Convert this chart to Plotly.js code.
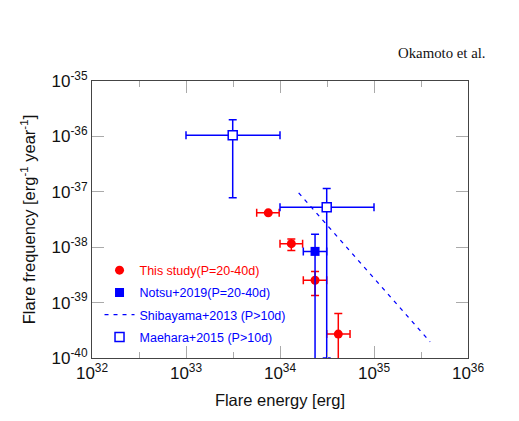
<!DOCTYPE html>
<html>
<head>
<meta charset="utf-8">
<script src="https://cdn.plot.ly/plotly-3.0.1.min.js"></script>
<style>html,body{margin:0;padding:0;background:#fff;}#chart{width:519px;height:421px;}</style>
</head>
<body>
<div id="chart"></div>
<script>
// This study (P=20-40d)
const studyE = [7.5e33, 1.32e34, 2.36e34, 4.17e34];
const studyF = [4.17e-38, 1.16e-38, 2.53e-39, 2.7e-40];
const studyElo = [5.65e33, 1.0e34, 1.77e34, 3.14e34];
const studyEhi = [9.8e33, 1.74e34, 3.14e34, 5.56e34];
const studyFlo = [4.17e-38, 8.75e-39, 1.34e-39, 1e-41];
const studyFhi = [4.17e-38, 1.41e-38, 3.63e-39, 6.37e-40];

// Notsu+2019 (P=20-40d)
const notsuE = [2.36e34];
const notsuF = [8.4e-39];
const notsuElo = [1.77e34];
const notsuEhi = [3.14e34];
const notsuFlo = [1e-41];
const notsuFhi = [1.72e-38];

// Shibayama+2013 (P>10d)
const shibE = [1.58e34, 3.95e35];
const shibF = [9.55e-38, 1.96e-40];

// Maehara+2015 (P>10d)
const maeE = [3.14e33, 3.14e34];
const maeF = [1.05e-36, 5.25e-38];
const maeElo = [1e33, 1e34];
const maeEhi = [1e34, 1e35];
const maeFlo = [7.8e-38, 1.0e-40];
const maeFhi = [2.0e-36, 1.15e-37];

const xTickVals = [1e32, 1e33, 1e34, 1e35, 1e36];
const xTickText = ['10<sup>32</sup>', '10<sup>33</sup>', '10<sup>34</sup>', '10<sup>35</sup>', '10<sup>36</sup>'];
const xMinorVals = [3.162e32, 3.162e33, 3.162e34, 3.162e35];
const yTickVals = [1e-40, 1e-39, 1e-38, 1e-37, 1e-36, 1e-35];
const yTickText = ['10<sup>-40</sup>', '10<sup>-39</sup>', '10<sup>-38</sup>', '10<sup>-37</sup>', '10<sup>-36</sup>', '10<sup>-35</sup>'];

const plus = (hi, v) => hi.map((h, i) => h - v[i]);
const minus = (lo, v) => lo.map((l, i) => v[i] - l);

const RED = '#ff0000', BLUE = '#0000ff';

function errs(v, lo, hi, color) {
  return {type: 'data', symmetric: false, array: plus(hi, v), arrayminus: minus(lo, v),
          color: color, thickness: 1.5, width: 4};
}

const traces = [
  {x: studyE, y: studyF, mode: 'markers', type: 'scatter', legendgroup: 'a',
   name: '<span style="color:#ff0000">This study(P=20-40d)</span>',
   marker: {symbol: 'circle', size: 9, color: RED},
   error_x: errs(studyE, studyElo, studyEhi, RED),
   error_y: errs(studyF, studyFlo, studyFhi, RED)},
  {x: notsuE, y: notsuF, mode: 'markers', type: 'scatter', legendgroup: 'b',
   name: 'Notsu+2019(P=20-40d)',
   marker: {symbol: 'square', size: 9, color: BLUE},
   error_x: errs(notsuE, notsuElo, notsuEhi, BLUE),
   error_y: errs(notsuF, notsuFlo, notsuFhi, BLUE)},
  {x: shibE, y: shibF, mode: 'lines', type: 'scatter', legendgroup: 'c',
   name: 'Shibayama+2013 (P>10d)',
   line: {color: BLUE, width: 1.3, dash: '4px,5px'}},
  {x: maeE, y: maeF, mode: 'markers', type: 'scatter', legendgroup: 'd',
   name: 'Maehara+2015 (P>10d)',
   marker: {symbol: 'square', size: 9, color: '#ffffff', line: {color: BLUE, width: 1.5}},
   error_x: errs(maeE, maeElo, maeEhi, BLUE),
   error_y: errs(maeF, maeFlo, maeFhi, BLUE)}
];

const font = 'Liberation Sans, Arial, Helvetica, sans-serif';

const layout = {
  width: 519, height: 421,
  margin: {l: 92, r: 51, t: 81, b: 63},
  paper_bgcolor: '#fff', plot_bgcolor: '#fff',
  font: {family: font, color: '#111'},
  showlegend: true,
  legend: {x: 0.02, y: 0.37, xanchor: 'left', yanchor: 'top', bgcolor: 'rgba(0,0,0,0)',
           font: {size: 12.5, color: BLUE, family: font}, traceorder: 'grouped', tracegroupgap: 3, itemwidth: 30},
  xaxis: {type: 'log', range: [32, 36], tickmode: 'array', tickvals: xTickVals, ticktext: xTickText,
          ticks: 'inside', ticklen: 12, tickcolor: '#aaa', tickwidth: 1,
          minor: {tickmode: 'array', tickvals: xMinorVals, ticks: 'inside', ticklen: 6, tickcolor: '#aaa'},
          showline: true, linecolor: '#444', linewidth: 1, mirror: 'ticks', showgrid: false, zeroline: false,
          tickfont: {size: 17, color: '#111'},
          title: {text: 'Flare energy [erg]', font: {size: 16.5, color: '#111'}, standoff: 12}},
  yaxis: {type: 'log', range: [-40, -35], tickmode: 'array', tickvals: yTickVals, ticktext: yTickText,
          ticks: 'inside', ticklen: 12, tickcolor: '#aaa', tickwidth: 1,
          showline: true, linecolor: '#444', linewidth: 1, mirror: 'ticks', showgrid: false, zeroline: false,
          tickfont: {size: 17, color: '#111'},
          title: {text: 'Flare frequency [erg<sup>-1</sup> year<sup>-1</sup>]', font: {size: 16.5, color: '#111'}, standoff: 11}},
  annotations: [{xref: 'paper', yref: 'paper', x: 1.053, y: 1.10, xanchor: 'right', yanchor: 'middle',
                 text: 'Okamoto et al.', showarrow: false,
                 font: {family: 'Liberation Serif, Times New Roman, serif', size: 14.8, color: '#111'}}]
};

Plotly.newPlot('chart', traces, layout, {displayModeBar: false, staticPlot: true});
</script>
</body>
</html>
